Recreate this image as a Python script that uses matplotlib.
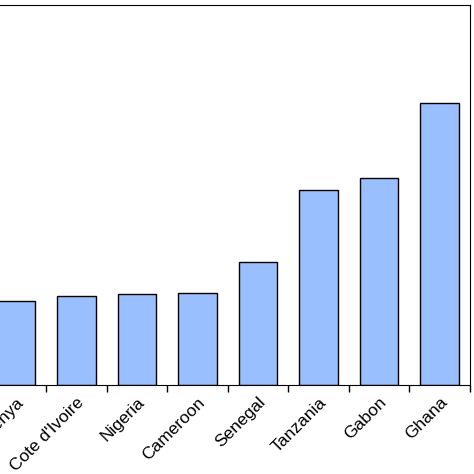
import matplotlib.pyplot as plt
import numpy as np

countries = ["Kenya", "Cote d'Ivoire", "Nigeria", "Cameroon", "Senegal",
             "Tanzania", "Gabon", "Ghana", "Namibia"]
values = [84, 89, 91, 92, 123, 195, 207, 282, 330]

plt.rcParams["font.family"] = ["Liberation Sans", "DejaVu Sans"]

fig = plt.figure(figsize=(4.74, 4.74), dpi=100)
ax = fig.add_axes([0.0, 1 - 385 / 474, 470 / 474, 380 / 474])

x = np.arange(len(countries))
ax.bar(x, values, width=0.63, color="#99bfff", edgecolor="black", linewidth=1.0)

ax.set_yticks([])
ax.spines["left"].set_visible(False)

ax.set_xticks(x)
ax.set_xticklabels(countries, rotation=45, ha="right", rotation_mode="anchor",
                   fontsize=12.5)
ax.tick_params(axis="x", which="major", length=0, pad=7)
ax.set_xticks(x[:-1] + 0.5, minor=True)
ax.tick_params(axis="x", which="minor", length=5, width=1)

# set limits last so tick placement does not expand them
ax.set_xlim(-16 / 60.5, (470 - 16) / 60.5)
ax.set_ylim(0, 380)

fig.savefig("out.png", dpi=100)
